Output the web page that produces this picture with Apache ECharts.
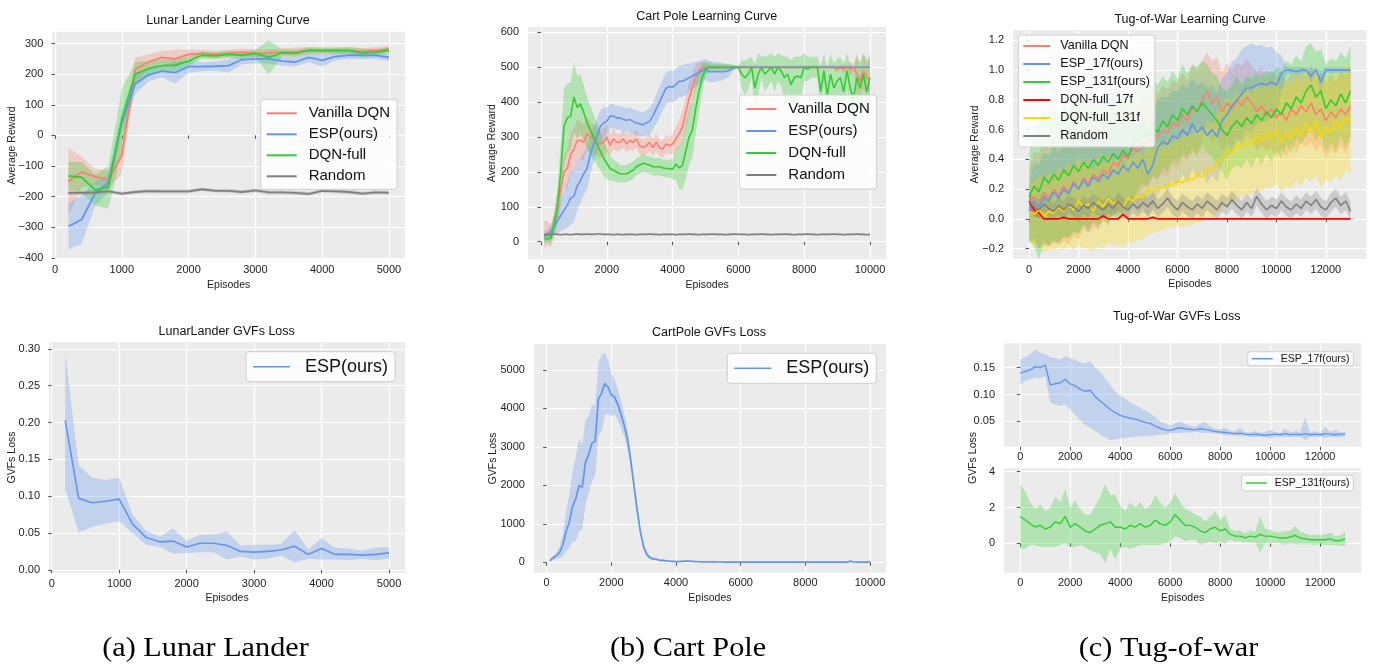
<!DOCTYPE html>
<html><head><meta charset="utf-8">
<script src="https://cdn.jsdelivr.net/npm/echarts@6/dist/echarts.min.js"></script>
<style>html,body{margin:0;padding:0;background:#fff}#c{width:1380px;height:664px}</style>
</head><body><div id="c"></div>
<script>
function seq(a,b,s){const r=[];for(let v=a;v<=b;v+=s)r.push(v);return r;}

// ---------- Lunar Lander learning curve ----------
const ll_ep = [200,400,600,800,1000,1200,1400,1600,1800,2000,2200,2400,2600,2800,3000,3200,3400,3600,3800,4000,4200,4400,4600,4800,5000];
const ll_van    = [-150,-120,-135,-145,-65,215,240,255,250,265, 268,265,268,272,268,270,272,272,278,275, 276,278,275,278,282];
const ll_van_sd = [110,50,25,30,60,40,25,20,30,15, 12,12,12,12,12,12,12,15,10,10, 10,10,10,10,10];
const ll_esp    = [-298,-275,-190,-155,40,170,198,210,205,225, 225,226,228,248,250,250,243,240,255,245, 258,262,262,262,255];
const ll_esp_sd = [75,80,40,30,40,35,22,20,35,20, 15,15,22,15,15,15,15,15,15,20, 12,12,12,12,12];
const ll_dqn    = [-132,-137,-178,-170,50,200,218,228,230,243, 262,260,265,262,268,255,270,268,278,278, 278,278,270,272,278];
const ll_dqn_sd = [45,50,50,70,100,40,25,20,20,15, 12,12,12,12,12,55,12,12,10,10, 10,10,15,10,10];
const ll_rand   = [-188,-188,-186,-183,-190,-185,-182,-183,-183,-183, -176,-181,-181,-185,-180,-186,-186,-188,-191,-181, -183,-185,-190,-186,-187];
const ll_rand_sd = 6;

// ---------- Cart Pole learning curve (episodes 100..10000 step 100) ----------
const cp_ep = seq(100, 10000, 100);
const cp_van = [
 20,25,15,50,100,150,200,210,250,265,
 290,290,285,310,300,295,285,280,285,300,
 275,295,285,285,295,280,290,285,295,275,
 270,275,285,270,285,270,265,280,275,280,
 295,310,330,370,410,440,470,490,500,500,
 500,500,500,500,500,500,500,500,500,500,
 500,500,500,500,500,500,500,500,500,500,
 500,500,500,500,500,500,500,500,500,500,
 500,500,500,500,500,500,500,500,500,495,
 500,495,500,495,500,480,460,490,470,465];
const cp_van_sd = [
 40,35,30,40,45,50,50,55,60,60,
 60,55,50,45,45,40,40,40,40,40,
 30,30,25,25,25,25,25,25,25,25,
 25,25,25,25,25,25,25,25,25,30,
 35,40,45,45,45,40,35,25,15,10,
 8,6,5,5,5,5,5,5,5,5,
 5,5,5,5,5,5,5,5,5,5,
 5,5,5,5,5,5,5,5,5,5,
 5,5,5,5,5,5,5,5,5,10,
 5,15,5,20,10,60,40,50,55,60];
const cp_esp = [
 15,20,30,45,60,75,90,105,125,130,
 160,175,195,210,250,280,300,330,340,345,
 360,360,355,355,350,348,350,345,340,338,
 335,340,345,360,380,400,420,440,445,443,
 450,460,460,465,470,475,480,485,490,495,
 487,487,487,487,487,488,490,495,500,500,
 500,500,500,500,500,500,500,500,500,500,
 500,500,500,500,500,500,500,500,500,500,
 500,500,500,500,500,500,500,500,500,500,
 500,500,500,500,500,500,500,500,500,500];
const cp_esp_sd = [
 15,15,20,25,35,45,55,65,75,75,
 70,65,60,60,55,50,50,45,45,40,
 35,35,35,35,35,35,35,35,35,35,
 35,35,38,40,42,45,45,45,45,45,
 45,45,45,45,40,38,35,32,30,30,
 30,30,28,27,25,22,18,12,5,1,
 1,1,1,1,1,1,1,1,1,1,
 1,1,1,1,1,1,1,1,1,1,
 1,1,1,1,1,1,1,1,1,1,
 1,1,1,1,1,1,1,1,1,1];
const cp_dqn = [
 10,8,10,50,100,200,330,355,360,415,
 385,395,370,340,320,300,280,260,240,225,
 210,205,200,195,195,195,200,205,215,220,
 225,222,220,215,215,215,212,210,210,208,
 222,212,218,260,300,320,380,430,470,495,
 500,500,500,500,500,500,500,500,500,500,
 480,470,480,500,440,480,500,480,490,500,
 480,500,490,470,480,450,470,475,470,500,
 495,500,500,500,430,490,420,480,440,460,
 470,430,490,440,410,470,440,480,430,470];
const cp_dqn_sd = [
 15,10,15,30,50,80,110,100,95,100,
 90,85,80,75,70,65,60,55,50,45,
 35,30,30,25,25,25,25,25,25,25,
 25,25,25,25,25,25,25,25,25,30,
 45,60,70,80,80,80,70,60,40,20,
 15,10,10,10,10,10,10,8,5,5,
 40,50,45,30,70,60,30,50,45,40,
 50,40,45,60,50,70,60,55,60,40,
 35,30,30,30,70,50,80,60,70,65,
 60,80,50,70,90,60,75,60,80,70];
const cp_rand = [
 21,20,21,22,21,20,21,21,20,21,
 22,21,21,22,21,21,22,22,21,21,
 21,20,21,21,20,21,21,21,20,21,
 21,21,22,21,21,20,21,21,21,21,
 20,21,21,21,22,21,21,20,21,21,
 21,22,21,21,21,20,21,21,22,21,
 21,21,20,21,21,21,22,21,21,20,
 21,21,21,22,21,21,20,21,21,21,
 22,21,21,20,21,21,21,21,22,21,
 21,20,21,21,21,22,21,21,20,21];
const cp_rand_sd = 2;

// ---------- Tug-of-War learning curve (episodes 0..13000 step 200) ----------
const tw_ep = seq(0, 13000, 200);
const tw_van = [
 0.10,0.15,0.12,0.18,0.14,0.20,0.16,0.22,0.18,0.25,0.20,
 0.28,0.24,0.30,0.27,0.33,0.30,0.38,0.35,0.44,0.40,0.48,
 0.45,0.52,0.50,0.58,0.55,0.60,0.58,0.65,0.62,0.70,0.66,
 0.74,0.72,0.80,0.86,0.78,0.82,0.72,0.78,0.74,0.80,0.76,
 0.82,0.78,0.72,0.76,0.70,0.74,0.68,0.72,0.66,0.74,0.70,
 0.76,0.72,0.78,0.70,0.74,0.66,0.72,0.68,0.74,0.70,0.76];
const tw_van_sd = [
 0.25,0.30,0.32,0.35,0.33,0.36,0.34,0.37,0.35,0.36,0.34,
 0.35,0.33,0.36,0.34,0.35,0.33,0.34,0.32,0.34,0.33,0.32,
 0.30,0.31,0.29,0.30,0.28,0.30,0.29,0.28,0.30,0.28,0.27,
 0.29,0.28,0.27,0.26,0.28,0.27,0.26,0.27,0.26,0.25,0.27,
 0.26,0.25,0.27,0.26,0.25,0.26,0.27,0.25,0.26,0.24,0.26,
 0.25,0.24,0.26,0.25,0.24,0.26,0.25,0.24,0.25,0.26,0.24];
const tw_e17 = [
 0.05,0.12,0.08,0.15,0.12,0.18,0.14,0.20,0.17,0.24,0.20,
 0.26,0.22,0.28,0.25,0.30,0.27,0.33,0.30,0.36,0.32,0.38,
 0.34,0.40,0.30,0.36,0.48,0.52,0.50,0.56,0.54,0.60,0.56,
 0.64,0.58,0.62,0.56,0.60,0.55,0.66,0.70,0.76,0.80,0.84,
 0.88,0.88,0.90,0.91,0.90,0.92,0.90,0.98,1.00,1.00,0.99,
 1.00,1.00,0.96,1.00,0.92,1.00,1.00,1.00,1.00,1.00,1.00];
const tw_e17_sd = [
 0.20,0.25,0.28,0.30,0.30,0.32,0.30,0.32,0.30,0.32,0.30,
 0.30,0.32,0.30,0.32,0.30,0.32,0.30,0.32,0.30,0.32,0.30,
 0.30,0.32,0.30,0.30,0.32,0.30,0.32,0.30,0.32,0.30,0.32,
 0.30,0.32,0.30,0.32,0.30,0.30,0.28,0.28,0.30,0.28,0.30,
 0.28,0.30,0.26,0.26,0.25,0.24,0.22,0.12,0.03,0.02,0.03,
 0.02,0.02,0.05,0.02,0.08,0.02,0.02,0.02,0.02,0.02,0.02];
const tw_e131 = [
 0.15,0.22,0.18,0.28,0.24,0.30,0.26,0.33,0.29,0.36,0.32,
 0.38,0.34,0.40,0.36,0.42,0.38,0.44,0.40,0.46,0.42,0.50,
 0.54,0.58,0.55,0.62,0.58,0.66,0.62,0.70,0.66,0.74,0.70,
 0.76,0.72,0.78,0.74,0.70,0.66,0.60,0.56,0.62,0.66,0.62,
 0.68,0.64,0.70,0.66,0.72,0.68,0.74,0.70,0.78,0.74,0.82,
 0.78,0.86,0.90,0.82,0.86,0.74,0.80,0.76,0.84,0.78,0.86];
const tw_e131_sd = [
 0.30,0.40,0.45,0.45,0.42,0.45,0.42,0.45,0.42,0.45,0.42,
 0.42,0.40,0.42,0.40,0.42,0.40,0.40,0.38,0.40,0.38,0.36,
 0.35,0.34,0.33,0.32,0.32,0.30,0.30,0.30,0.28,0.30,0.28,
 0.28,0.30,0.28,0.30,0.28,0.30,0.28,0.30,0.28,0.30,0.28,
 0.28,0.30,0.28,0.30,0.28,0.30,0.28,0.30,0.28,0.30,0.28,
 0.28,0.30,0.28,0.30,0.28,0.30,0.28,0.30,0.28,0.30,0.30];
const tw_d17 = [
 0.12,0.06,0.04,0.00,0.00,0.00,0.00,0.01,0.00,0.00,0.00,
 0.00,0.00,0.00,0.00,0.02,0.00,0.00,0.00,0.03,0.00,0.00,
 0.00,0.00,0.00,0.01,0.00,0.00,0.00,0.00,0.00,0.00,0.00,
 0.00,0.00,0.00,0.00,0.00,0.00,0.00,0.00,0.00,0.00,0.00,
 0.00,0.00,0.00,0.00,0.00,0.00,0.00,0.00,0.00,0.00,0.00,
 0.00,0.00,0.00,0.00,0.00,0.00,0.00,0.00,0.00,0.00,0.00];
const tw_d17_sd = [
 0.06,0.04,0.03,0.01,0.004,0.004,0.004,0.01,0.004,0.004,0.004,
 0.004,0.004,0.004,0.004,0.015,0.004,0.004,0.004,0.02,0.004,0.004,
 0.004,0.004,0.004,0.01,0.004,0.004,0.004,0.004,0.004,0.004,0.004,
 0.004,0.004,0.004,0.004,0.004,0.004,0.004,0.004,0.004,0.004,0.004,
 0.004,0.004,0.004,0.004,0.004,0.004,0.004,0.004,0.004,0.004,0.004,
 0.004,0.004,0.004,0.004,0.004,0.004,0.004,0.004,0.004,0.004,0.004];
const tw_d131 = [
 0.05,0.03,0.06,0.02,0.05,0.04,0.08,0.05,0.10,0.06,0.12,
 0.08,0.10,0.05,0.12,0.08,0.14,0.10,0.12,0.08,0.14,0.12,
 0.16,0.14,0.20,0.18,0.22,0.20,0.24,0.22,0.26,0.24,0.28,
 0.26,0.30,0.28,0.34,0.32,0.38,0.40,0.46,0.44,0.50,0.48,
 0.52,0.50,0.56,0.52,0.58,0.54,0.60,0.52,0.58,0.54,0.62,
 0.56,0.64,0.58,0.66,0.55,0.62,0.58,0.66,0.60,0.68,0.66];
const tw_d131_sd = [
 0.20,0.22,0.24,0.25,0.26,0.25,0.27,0.26,0.28,0.27,0.30,
 0.28,0.30,0.27,0.30,0.28,0.30,0.28,0.30,0.27,0.30,0.28,
 0.30,0.28,0.30,0.28,0.30,0.28,0.30,0.28,0.30,0.30,0.32,
 0.30,0.32,0.30,0.32,0.32,0.34,0.34,0.36,0.34,0.36,0.34,
 0.36,0.34,0.36,0.34,0.36,0.34,0.36,0.34,0.36,0.34,0.36,
 0.34,0.36,0.34,0.36,0.34,0.36,0.34,0.36,0.34,0.36,0.36];
const tw_rand = [
 0.12,0.08,0.06,0.10,0.07,0.05,0.09,0.06,0.10,0.08,0.05,
 0.09,0.07,0.11,0.08,0.06,0.10,0.07,0.12,0.08,0.06,0.10,
 0.07,0.11,0.08,0.12,0.07,0.10,0.14,0.09,0.06,0.11,0.08,
 0.06,0.10,0.07,0.12,0.09,0.06,0.11,0.08,0.13,0.09,0.06,
 0.11,0.07,0.15,0.10,0.06,0.09,0.07,0.12,0.08,0.06,0.10,
 0.07,0.12,0.09,0.13,0.08,0.06,0.11,0.14,0.09,0.12,0.05];
const tw_rand_sd = 0.06;

// ---------- Lunar Lander GVFs loss ----------
const ll_loss    = [0.203,0.097,0.091,0.093,0.096,0.062,0.044,0.038,0.039,0.031,0.036,0.036,0.033,0.025,0.024,0.025,0.027,0.032,0.021,0.029,0.021,0.021,0.020,0.021,0.023];
const ll_loss_hi = [0.295,0.142,0.125,0.122,0.125,0.075,0.053,0.045,0.056,0.039,0.048,0.048,0.052,0.033,0.034,0.034,0.035,0.054,0.028,0.043,0.030,0.029,0.026,0.030,0.031];
const ll_loss_lo = [0.110,0.051,0.058,0.063,0.066,0.050,0.034,0.031,0.022,0.023,0.024,0.024,0.014,0.018,0.014,0.015,0.019,0.010,0.015,0.014,0.014,0.013,0.015,0.013,0.015];

// ---------- Cart Pole GVFs loss ----------
const cp_loss = [
 40,120,170,260,450,800,1050,1450,1650,2000,
 1950,2600,2800,3100,3150,4250,4400,4650,4550,4350,
 4300,4100,3850,3550,3200,2650,2000,1350,780,400,
 200,120,90,80,50,50,40,30,25,20,
 20,25,30,30,25,20,15,12,10,10,
 10,9,8,8,7,7,6,6,6,5,
 5,5,5,5,5,5,5,5,5,5,
 5,5,5,5,5,5,5,5,5,5,
 5,5,5,5,5,5,5,5,5,5,
 5,5,5,30,8,5,5,5,5,10];
const cp_loss_sd = [
 20,60,80,150,300,500,700,900,1100,1200,
 1100,1100,1000,1000,900,950,1000,800,700,550,
 450,400,350,300,250,200,150,120,100,80,
 60,40,30,30,25,25,20,15,15,10,
 10,15,20,20,15,10,8,6,5,5,
 5,5,5,5,5,5,5,5,5,5,
 5,5,5,5,5,5,5,5,5,5,
 5,5,5,5,5,5,5,5,5,5,
 5,5,5,5,5,5,5,5,5,5,
 5,5,5,15,5,5,5,5,5,5];

// ---------- Tug-of-War GVFs loss ----------
const tg17 = [
 0.140,0.143,0.146,0.152,0.150,0.155,0.118,0.120,0.122,0.128,0.120,
 0.116,0.110,0.106,0.108,0.096,0.088,0.080,0.072,0.066,0.061,0.058,
 0.056,0.054,0.051,0.048,0.046,0.041,0.037,0.034,0.033,0.036,0.038,
 0.036,0.035,0.034,0.036,0.035,0.033,0.031,0.030,0.029,0.028,0.027,
 0.028,0.026,0.025,0.026,0.025,0.024,0.025,0.026,0.025,0.027,0.025,
 0.026,0.025,0.027,0.025,0.026,0.025,0.027,0.026,0.025,0.026,0.026];
const tg17_hi = [
 0.165,0.170,0.175,0.185,0.178,0.175,0.170,0.168,0.165,0.172,0.168,
 0.165,0.160,0.158,0.162,0.150,0.142,0.130,0.118,0.105,0.098,0.092,
 0.085,0.080,0.075,0.070,0.065,0.058,0.050,0.045,0.042,0.046,0.050,
 0.044,0.042,0.040,0.046,0.048,0.040,0.036,0.035,0.038,0.032,0.031,
 0.038,0.030,0.029,0.032,0.028,0.030,0.034,0.030,0.028,0.036,0.029,
 0.032,0.030,0.058,0.029,0.032,0.028,0.040,0.030,0.034,0.029,0.030];
const tg17_lo = [
 0.118,0.125,0.128,0.132,0.130,0.135,0.085,0.082,0.078,0.082,0.072,
 0.062,0.052,0.042,0.038,0.032,0.025,0.020,0.015,0.016,0.018,0.019,
 0.020,0.021,0.022,0.022,0.023,0.024,0.025,0.026,0.027,0.028,0.028,
 0.029,0.029,0.030,0.029,0.028,0.028,0.027,0.026,0.024,0.024,0.023,
 0.022,0.022,0.021,0.020,0.021,0.020,0.018,0.021,0.021,0.020,0.021,
 0.020,0.021,0.015,0.021,0.020,0.021,0.019,0.021,0.020,0.021,0.021];
const tg131 = [
 1.5,1.3,1.1,0.9,1.0,0.8,0.9,1.2,1.1,1.5,0.9,
 1.1,0.9,0.7,0.6,0.8,1.0,1.1,1.2,0.9,0.9,0.8,
 1.0,0.9,1.1,0.9,1.0,1.3,1.1,1.0,1.2,1.6,1.3,
 1.0,1.0,0.9,0.7,0.6,0.8,0.9,0.7,0.8,0.5,0.4,
 0.4,0.3,0.4,0.35,0.5,0.4,0.4,0.35,0.3,0.3,0.35,
 0.45,0.3,0.25,0.2,0.2,0.2,0.2,0.25,0.15,0.15,0.25];
const tg131_sd = [
 1.8,1.6,1.2,1.0,1.2,1.0,1.1,1.4,1.2,1.5,1.1,
 1.3,1.0,0.9,1.0,1.3,1.6,2.2,1.5,1.8,1.2,1.0,
 1.3,1.1,1.2,1.0,1.1,1.4,1.2,1.0,1.1,1.2,1.0,
 0.9,0.8,0.7,0.8,0.6,0.7,0.9,0.6,0.8,0.3,0.3,
 0.3,0.25,0.35,0.3,1.0,0.4,0.35,0.3,0.3,0.4,0.35,
 0.5,0.35,0.3,0.25,0.3,0.25,0.3,0.35,0.25,0.3,0.4];

// ---------- tick values ----------
const ll_xt = [0,1000,2000,3000,4000,5000];
const ll_yt = [-400,-300,-200,-100,0,100,200,300];
const cp_xt = [0,2000,4000,6000,8000,10000];
const cp_yt = [0,100,200,300,400,500,600];
const tw_xt = [0,2000,4000,6000,8000,10000,12000];
const tw_yt = [-0.2,0,0.2,0.4,0.6,0.8,1.0,1.2];
const lll_yt = [0,0.05,0.10,0.15,0.20,0.25,0.30];
const cpl_yt = [0,1000,2000,3000,4000,5000];
const tg1_yt = [0.05,0.10,0.15];
const tg2_yt = [0,2,4];

// ---------- colours ----------
const C = {van:'#FA8072', esp:'#6495ED', dqn:'#32CD32', rand:'#808080', d17:'#FF0000', d131:'#FFD700'};
function rgba(hex,a){const n=parseInt(hex.slice(1),16);return 'rgba('+(n>>16&255)+','+(n>>8&255)+','+(n&255)+','+a+')';}

const FONT = '"Liberation Sans", Arial, Helvetica, sans-serif';
const chart = echarts.init(document.getElementById('c'), null, {renderer:'canvas'});

function band(gi, xs, lo, hi, color, alpha) {
  const data = xs.map((x,i)=>[x, lo[i], hi[i]]);
  return {type:'custom', coordinateSystem:'cartesian2d', xAxisIndex:gi, yAxisIndex:gi, silent:true, clip:true,
    data:data, encode:{x:0, y:[1,2]}, z:2,
    renderItem:function(params, api){
      if (params.dataIndex !== 0) return null;
      const pts = [];
      for (let i=0;i<data.length;i++) pts.push(api.coord([data[i][0], data[i][2]]));
      for (let i=data.length-1;i>=0;i--) pts.push(api.coord([data[i][0], data[i][1]]));
      return {type:'polygon', shape:{points:pts}, style:{fill:rgba(color, alpha==null?0.3:alpha)}};
    }};
}
function bandSd(gi, xs, m, sd, color, alpha) {
  const s = (i)=> Array.isArray(sd)? sd[i] : sd;
  return band(gi, xs, m.map((v,i)=>v-s(i)), m.map((v,i)=>v+s(i)), color, alpha);
}
function line(gi, name, xs, ys, color, w) {
  return {type:'line', name:name, xAxisIndex:gi, yAxisIndex:gi, data:xs.map((x,i)=>[x,ys[i]]),
    symbol:'none', showSymbol:false, silent:true, z:2, clip:true,
    lineStyle:{color:color, width:w}, itemStyle:{color:color}};
}
function fmt(d){return function(v){const s=Math.abs(v).toFixed(d);return (v<0?'\u2212':'')+s;};}

function grid(l,t,w,h){return {left:l, top:t, width:w, height:h, show:true, backgroundColor:'#EBEBEB', borderWidth:0, containLabel:false, outerBoundsMode:'none'};}
function axis(type, gi, min, max, ticks, f, name, gap, lblMargin) {
  return {type:'value', gridIndex:gi, min:min, max:max,
    name:name||'', nameLocation:'middle', nameGap:gap||20, nameMoveOverlap:false,
    nameTextStyle:{fontFamily:FONT, fontSize:10.5, color:'#222'},
    axisLine:{show:false},
    axisTick:{show:true, inside:false, length:3.5, customValues:ticks, lineStyle:{color:'#555', width:1}},
    axisLabel:{show:true, customValues:ticks, margin:lblMargin||(type==='x'?5:9), fontFamily:FONT, fontSize:11, color:'#222', formatter:f},
    splitLine:{show:true, lineStyle:{color:'#ffffff', width:1.2}},
    splitArea:{show:false}};
}
function legend(names, left, top, o) {
  return {show:true, data:names, orient:'vertical', left:left, top:top, icon:'rect',
    itemWidth:o.iw, itemHeight:o.ih, itemGap:o.gap, padding:o.pad,
    backgroundColor:'rgba(255,255,255,0.82)', borderColor:'#cfcfcf', borderWidth:1, borderRadius:3,
    selectedMode:false, z:10, itemStyle:{borderWidth:0},
    textStyle:{fontFamily:FONT, fontSize:o.fs, lineHeight:o.lh, color:'#111', padding:[0,0,0,o.tp]}};
}
function txt(x,y,s,size,opt){opt=opt||{};return {type:'text', x:x, y:y, rotation:opt.rot||0, scaleX:opt.sx||1, z:20,
  style:{text:s, fontFamily:opt.ff||FONT, fontSize:size, fill:opt.col||'#111', align:'center', verticalAlign:'middle', textAlign:'center', textVerticalAlign:'middle'}};}

const grids = [
  grid(52.3, 31.7, 352.7, 227.6),   // 0 LL
  grid(528, 27.1, 358.3, 232.1),    // 1 CP
  grid(1013, 30, 353.7, 229),       // 2 TW
  grid(49, 342, 356.2, 231),        // 3 LL loss
  grid(533.9, 344.2, 352.1, 228.5), // 4 CP loss
  grid(1004, 343.3, 357.4, 103.4),  // 5 TW loss 17f
  grid(1004, 468.3, 357.4, 104.4)   // 6 TW loss 131f
];
const xAxes = [
  axis('x',0,-40,5240,ll_xt,fmt(0),'Episodes',20),
  axis('x',1,-395,10495,cp_xt,fmt(0),'Episodes',20),
  axis('x',2,-650,13650,tw_xt,fmt(0),'Episodes',20),
  axis('x',3,-40,5240,ll_xt,fmt(0),'Episodes',20),
  axis('x',4,-395,10495,cp_xt,fmt(0),'Episodes',20),
  axis('x',5,-650,13650,tw_xt,fmt(0),'',20),
  axis('x',6,-650,13650,tw_xt,fmt(0),'Episodes',20)
];
const yAxes = [
  axis('y',0,-405,339,ll_yt,fmt(0),'Average Reward',35),
  axis('y',1,-50,615,cp_yt,fmt(0),'Average Reward',30),
  axis('y',2,-0.27,1.27,tw_yt,fmt(1),'Average Reward',32.5),
  axis('y',3,-0.0043,0.3093,lll_yt,fmt(2),'GVFs Loss',31.5),
  axis('y',4,-270,5670,cpl_yt,fmt(0),'GVFs Loss',35.5),
  axis('y',5,0.0026,0.1955,tg1_yt,fmt(2),'',30),
  axis('y',6,-1.64,4.19,tg2_yt,fmt(0),'',30)
];

const series = [
  // LL
  bandSd(0, ll_ep, ll_van, ll_van_sd, C.van), line(0,'Vanilla DQN', ll_ep, ll_van, C.van, 1.8),
  bandSd(0, ll_ep, ll_esp, ll_esp_sd, C.esp), line(0,'ESP(ours)', ll_ep, ll_esp, C.esp, 1.8),
  bandSd(0, ll_ep, ll_dqn, ll_dqn_sd, C.dqn), line(0,'DQN-full', ll_ep, ll_dqn, C.dqn, 1.8),
  bandSd(0, ll_ep, ll_rand, ll_rand_sd, C.rand), line(0,'Random', ll_ep, ll_rand, C.rand, 1.8),
  // CP
  bandSd(1, cp_ep, cp_van, cp_van_sd, C.van), line(1,'Vanilla DQN', cp_ep, cp_van, C.van, 1.6),
  bandSd(1, cp_ep, cp_esp, cp_esp_sd, C.esp), line(1,'ESP(ours)', cp_ep, cp_esp, C.esp, 1.6),
  bandSd(1, cp_ep, cp_dqn, cp_dqn_sd, C.dqn), line(1,'DQN-full', cp_ep, cp_dqn, C.dqn, 1.6),
  bandSd(1, cp_ep, cp_rand, cp_rand_sd, C.rand), line(1,'Random', cp_ep, cp_rand, C.rand, 1.6),
  // TW
  bandSd(2, tw_ep, tw_van, tw_van_sd, C.van, 0.3), line(2,'Vanilla DQN', tw_ep, tw_van, C.van, 1.6),
  bandSd(2, tw_ep, tw_e17, tw_e17_sd, C.esp, 0.3), line(2,'ESP_17f(ours)', tw_ep, tw_e17, C.esp, 1.6),
  bandSd(2, tw_ep, tw_e131, tw_e131_sd, C.dqn, 0.3), line(2,'ESP_131f(ours)', tw_ep, tw_e131, C.dqn, 1.6),
  bandSd(2, tw_ep, tw_d17, tw_d17_sd, C.d17, 0.3), line(2,'DQN-full_17f', tw_ep, tw_d17, C.d17, 1.6),
  bandSd(2, tw_ep, tw_d131, tw_d131_sd, C.d131, 0.3), line(2,'DQN-full_131f', tw_ep, tw_d131, C.d131, 1.6),
  bandSd(2, tw_ep, tw_rand, tw_rand_sd, C.rand, 0.3), line(2,'Random', tw_ep, tw_rand, C.rand, 1.6),
  // LL loss
  band(3, ll_ep, ll_loss_lo, ll_loss_hi, C.esp, 0.3), line(3,'ESP(ours)', ll_ep, ll_loss, C.esp, 1.6),
  // CP loss
  bandSd(4, cp_ep, cp_loss, cp_loss_sd, C.esp, 0.3), line(4,'ESP(ours)', cp_ep, cp_loss, C.esp, 1.7),
  // TW loss
  band(5, tw_ep, tg17_lo, tg17_hi, C.esp, 0.3), line(5,'ESP_17f(ours)', tw_ep, tg17, C.esp, 1.4),
  bandSd(6, tw_ep, tg131, tg131_sd, C.dqn, 0.3), line(6,'ESP_131f(ours)', tw_ep, tg131, C.dqn, 1.4)
];

const legends = [
  legend(['Vanilla DQN','ESP(ours)','DQN-full','Random'], 260.7, 99.3, {iw:30, ih:2, gap:5, pad:[6,7,5,6], fs:15, lh:16, tp:7}),
  legend(['Vanilla DQN','ESP(ours)','DQN-full','Random'], 739.3, 95, {iw:30, ih:2, gap:6, pad:[6,7,6,7], fs:15, lh:16, tp:7}),
  legend(['Vanilla DQN','ESP_17f(ours)','ESP_131f(ours)','DQN-full_17f','DQN-full_131f','Random'], 1018.3, 35, {iw:27, ih:2, gap:4, pad:[4,5,4,5], fs:12.6, lh:14, tp:5}),
  legend(['ESP(ours)'], 246, 351.7, {iw:37, ih:1.6, gap:5, pad:[5,7,5,7], fs:18, lh:20, tp:10}),
  legend(['ESP(ours)'], 727.3, 353.3, {iw:37, ih:1.6, gap:5, pad:[5,7,5,7], fs:18, lh:20, tp:10}),
  legend(['ESP_17f(ours)'], 1247.7, 351.7, {iw:21, ih:1.5, gap:3, pad:[1,4,1,4], fs:10.5, lh:12, tp:3}),
  legend(['ESP_131f(ours)'], 1241.7, 475, {iw:21, ih:1.5, gap:3, pad:[2,4,2,4], fs:10.5, lh:12, tp:3})
];

const graphics = [
  txt(228, 20.7, 'Lunar Lander Learning Curve', 12.5),
  txt(706.7, 16.7, 'Cart Pole Learning Curve', 12.5),
  txt(1190, 20, 'Tug-of-War Learning Curve', 12.5),
  txt(226.7, 331.7, 'LunarLander GVFs Loss', 12.5),
  txt(709, 333, 'CartPole GVFs Loss', 12.5),
  txt(1176.7, 317, 'Tug-of-War GVFs Loss', 12.5),
  txt(973.3, 458, 'GVFs Loss', 10.5, {rot:Math.PI/2, col:'#222'}),
  txt(205.5, 649, '(a) Lunar Lander', 27, {ff:'"Liberation Serif", "Times New Roman", serif', sx:1.12, col:'#000'}),
  txt(688, 649, '(b) Cart Pole', 27, {ff:'"Liberation Serif", "Times New Roman", serif', sx:1.12, col:'#000'}),
  txt(1168.5, 649, '(c) Tug-of-war', 27, {ff:'"Liberation Serif", "Times New Roman", serif', sx:1.12, col:'#000'})
];

chart.setOption({
  animation:false,
  backgroundColor:'#ffffff',
  textStyle:{fontFamily:FONT},
  grid:grids, xAxis:xAxes, yAxis:yAxes, series:series, legend:legends,
  graphic:{elements:graphics}
});
</script></body></html>
